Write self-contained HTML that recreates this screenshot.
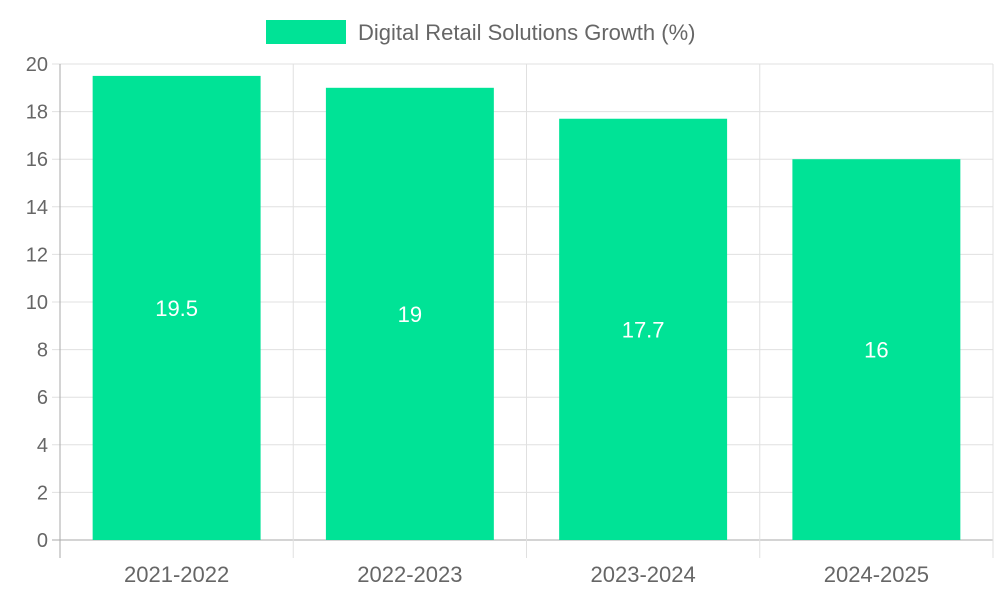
<!DOCTYPE html>
<html><head><meta charset="utf-8"><style>
html,body{margin:0;padding:0;background:#fff;}
svg{display:block;font-family:"Liberation Sans",sans-serif;}
</style></head><body>
<svg id="chart" width="1000" height="600">
<g id="legend">
<rect x="266" y="20" width="80" height="24" fill="#00e396"/>
<text x="358" y="40" font-size="22" fill="#666">Digital Retail Solutions Growth (%)</text>
</g>
<g id="grid"></g>
<g id="bars"></g>
<g id="axes"></g>
</svg>
<script>
const categories = ["2021-2022","2022-2023","2023-2024","2024-2025"];
const values = [19.5, 19, 17.7, 16];
const yTicks = [0,2,4,6,8,10,12,14,16,18,20];
const NS="http://www.w3.org/2000/svg";
const L=60,R=993,T=64,B=540,yMax=20;
const band=(R-L)/categories.length;
function y(v){return B-(v/yMax)*(B-T);}
function xBand(i){return L+i*band;}
function mk(tag,attrs,parent,text){const e=document.createElementNS(NS,tag);for(const k in attrs)e.setAttribute(k,attrs[k]);if(text!==undefined)e.textContent=text;parent.appendChild(e);return e;}
const grid=document.getElementById('grid'),bars=document.getElementById('bars'),axes=document.getElementById('axes');
yTicks.forEach(t=>{
  const g=mk('line',{x1:L-8,x2:R,y1:y(t),y2:y(t),stroke:t===0?'#aaa':'#e0e0e0','stroke-width':1},grid);
  
  
  const lb=mk('text',{x:L-12,y:y(t)+7,'text-anchor':'end','font-size':20,fill:'#666'},axes,String(t));
  
  
});
for(let i=0;i<=categories.length;i++){
  const g=mk('line',{x1:xBand(i),x2:xBand(i),y1:T,y2:B+18,stroke:i===0?'#aaa':'#e0e0e0','stroke-width':1},grid);
  
  
}
categories.forEach((c,i)=>{
  const bw=band*0.72,cx=xBand(i)+band/2;
  const r=mk('rect',{x:cx-bw/2,y:y(values[i]),width:bw,height:B-y(values[i]),fill:'#00e396'},bars);
  
  
  const v=mk('text',{x:cx,y:(y(values[i])+B)/2+8,'text-anchor':'middle','font-size':22,fill:'#fff'},bars,String(values[i]));
  
  
  const lb=mk('text',{x:cx,y:582,'text-anchor':'middle','font-size':22,fill:'#666'},axes,c);
  
  
});
</script>
</body></html>
